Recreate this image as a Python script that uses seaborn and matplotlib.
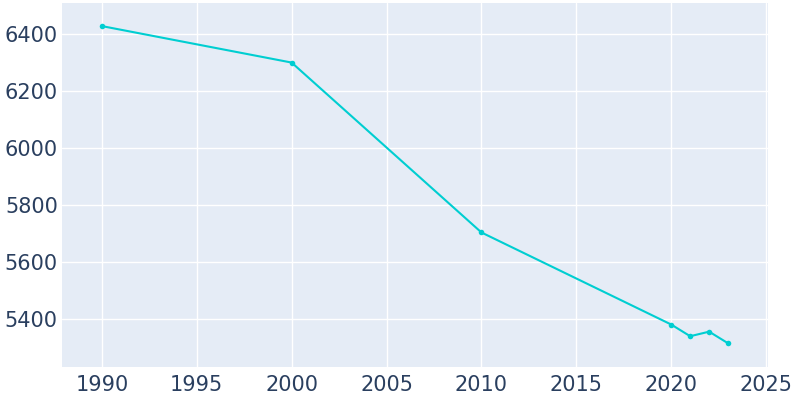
import matplotlib
matplotlib.use("Agg")
import matplotlib.pyplot as plt
import pandas as pd
import seaborn as sns

years = [1990, 2000, 2010, 2020, 2021, 2022, 2023]
population = [6428, 6300, 5704, 5381, 5340, 5356, 5315]

df = pd.DataFrame({"year": years, "population": population})

sns.set_style("darkgrid", {"axes.facecolor": "#E5ECF6", "grid.color": "white"})
plt.rcParams["font.family"] = ["DejaVu Sans"]

fig = plt.figure(figsize=(8, 4), dpi=100)
ax = fig.add_axes([0.0775, 0.0825, 0.8825, 0.91])
sns.lineplot(data=df, x="year", y="population", ax=ax, color="#00CED1",
             marker="o", markersize=4, markeredgewidth=0, linewidth=1.5)

ax.set_xlim(1987.9, 2025.1)
ax.set_ylim(5232, 6509)
ax.set_xticks([1990, 1995, 2000, 2005, 2010, 2015, 2020, 2025])
ax.set_yticks([5400, 5600, 5800, 6000, 6200, 6400])
ax.set_xlabel("")
ax.set_ylabel("")
ax.grid(True, color="white", linewidth=1)
for s in ax.spines.values():
    s.set_visible(False)
ax.tick_params(axis="both", labelsize=15, colors="#2a3f5f", length=0)
ax.tick_params(axis="y", pad=3)
ax.tick_params(axis="x", pad=6)

fig.savefig("out.png", dpi=100, facecolor="white")
